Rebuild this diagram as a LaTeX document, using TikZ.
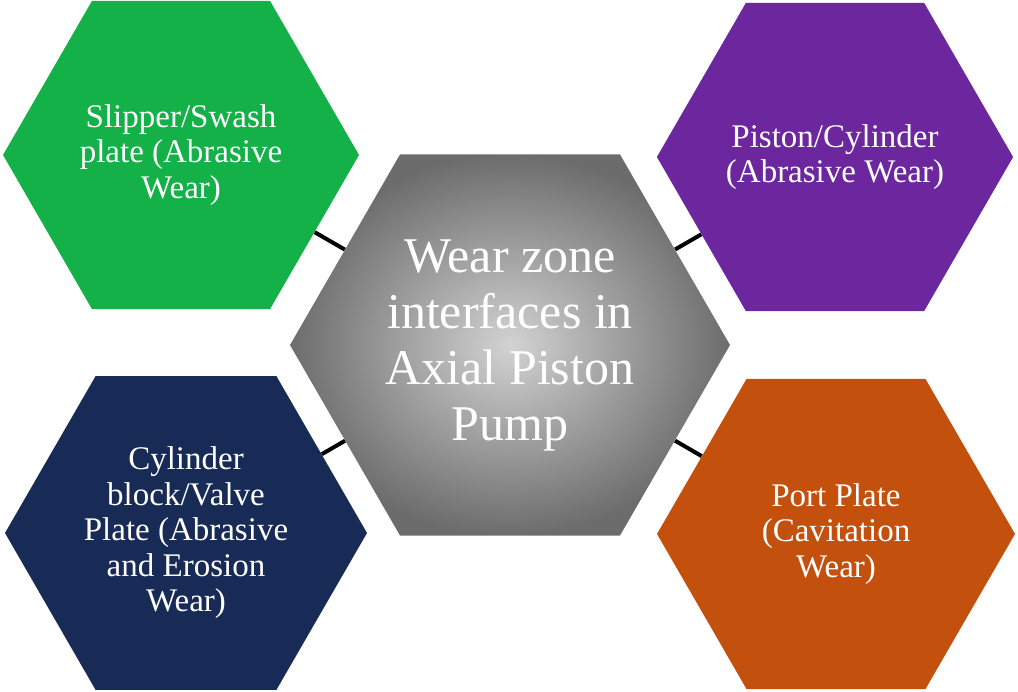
\documentclass[tikz,border=0pt]{standalone}
\usepackage{fontspec}
\setmainfont{Liberation Serif}
\usetikzlibrary{shapes.geometric,backgrounds}
\definecolor{hgreen}{RGB}{20,176,72}
\definecolor{hpurple}{RGB}{108,38,158}
\definecolor{hnavy}{RGB}{24,42,86}
\definecolor{horange}{RGB}{196,80,14}
\tikzset{
 hex/.style={regular polygon, regular polygon sides=6, shape border rotate=0, inner sep=0pt, text=white, align=center, font=\fontsize{33}{35.5}\selectfont},
 link/.style={line width=4pt, black}
}
\begin{document}
\begin{tikzpicture}[x=1pt,y=-1pt]
\useasboundingbox (0,0) rectangle (1018,692);
\node[hex, minimum size=356pt, fill=hgreen] (g) at (181,155) {Slipper/Swash\\plate (Abrasive\\Wear)};
\node[hex, minimum size=356pt, fill=hpurple] (p) at (835,157) {Piston/Cylinder\\(Abrasive Wear)};
\node[hex, minimum size=362pt, fill=hnavy] (n) at (186,533) {Cylinder\\block/Valve\\Plate (Abrasive\\and Erosion\\Wear)};
\node[hex, minimum size=358pt, fill=horange] (o) at (836,534) {Port Plate\\(Cavitation\\Wear)};
\node[hex, minimum size=440pt, inner color=gray!35, outer color=gray!85!black, font=\fontsize{50}{56}\selectfont] (c) at (510,345) {Wear zone\\interfaces in\\Axial Piston\\Pump};
\begin{scope}[on background layer]
\draw[link] (g) -- (c);
\draw[link] (p) -- (c);
\draw[link] (n) -- (c);
\draw[link] (o) -- (c);
\end{scope}
\end{tikzpicture}
\end{document}
